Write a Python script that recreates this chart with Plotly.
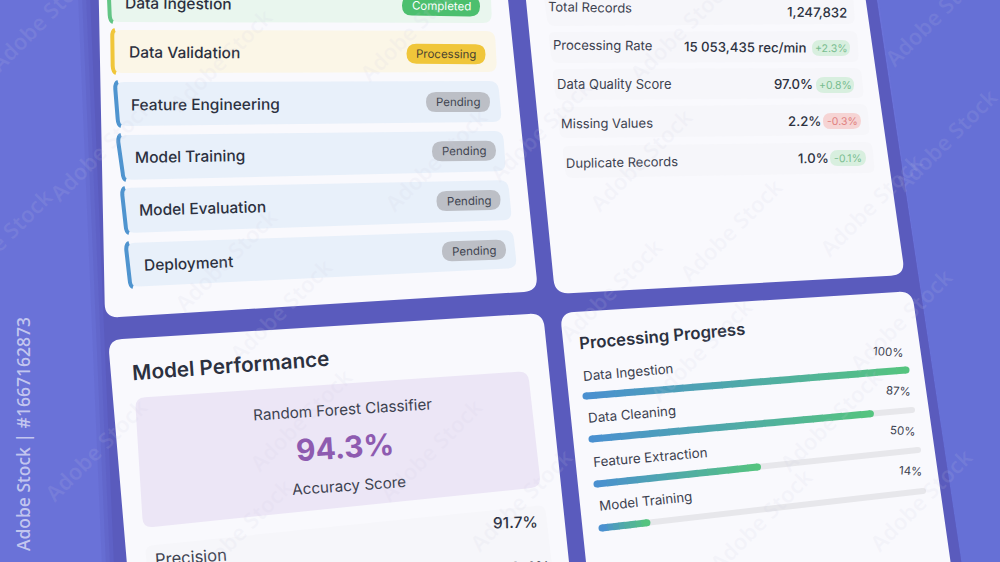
import plotly.graph_objects as go
import math

# ---------- data ----------
step_names = ["Data Ingestion", "Data Validation", "Feature Engineering", "Model Training", "Model Evaluation", "Deployment"]
step_status = ["Completed", "Processing", "Pending", "Pending", "Pending", "Pending"]
metric_names = ["Total Records", "Processing Rate", "Data Quality Score", "Missing Values", "Duplicate Records"]
metric_values = ["1,247,832", "15 053,435 rec/min", "97.0%", "2.2%", "1.0%"]
metric_deltas = ["", "+2.3%", "+0.8%", "-0.3%", "-0.1%"]
metric_delta_good = [True, True, True, False, True]
progress_names = ["Data Ingestion", "Data Cleaning", "Feature Extraction", "Model Training"]
progress_values = [100, 87, 50, 14]
model_title = "Model Performance"
model_name = "Random Forest Classifier"
model_score = "94.3%"
model_score_label = "Accuracy Score"
model_row_labels = ["Precision"]
model_row_values = ["91.7%", "93.4%"]
progress_title = "Processing Progress"
credit = "Adobe Stock | #1667162873"
watermark = "Adobe Stock"

# ---------- layout geometry (pixel space of the photographed perspective) ----------
FONT = "Inter"
INK = "#2c3140"
INK2 = "#3d4250"
step_quads = [
    [(108, -25), (490, -25), (492, 23), (110, 22)],
    [(112, 30), (495, 31), (497, 72), (113, 73)],
    [(115, 82), (498, 81), (502, 122), (118, 126)],
    [(118, 135), (503, 131), (506, 171), (123, 180)],
    [(122, 188), (508, 180), (512, 220), (126, 233)],
    [(126, 243), (513, 230), (517, 268), (130, 287)],
]
step_text_pos = [(178, 3, 0.6), (184, 52, 0.4), (205, 104, -0.3), (190, 156, -1), (202, 208, -1.6), (188, 263, -2.4)]
step_badge_pos = [(441, 6, 78, 20, 0.8), (446, 54, 79, 20, 0.6), (458, 102, 64, 20, -0.2), (464, 151, 64, 20, -0.8),
                  (468.5, 200.5, 64, 20, -1.2), (474, 250.5, 64, 20, -1.8)]
status_style = {"Completed": ("#4cbf6e", "#ffffff"), "Processing": ("#f0c63a", "#4a4230"), "Pending": ("#bcbfc6", "#3f4450")}
step_bg = {"Completed": "#e9f6ee", "Processing": "#fbf6e7", "Pending": "#e8f0fa"}
step_bar = {"Completed": "#62c585", "Processing": "#f0c63a", "Pending": "#4f94cf"}

row_quads = [
    [(543, -8), (853, -8), (855, 24), (548, 26)],
    [(548, 32), (857, 31), (859, 62), (552, 63)],
    [(552, 69), (861, 68), (864, 98), (556, 100)],
    [(557, 107), (867, 104), (870, 135), (560, 138)],
    [(562, 146), (872, 142), (875, 173), (566, 178)],
]
row_label_pos = [(590, 7, 1), (602, 45, 0.5), (614, 84, 0), (607, 123, -0.4), (622, 162, -1)]
row_value_pos = [(817, 12, 1), (745, 47, 0.6), (793, 84, 0), (804, 121, -0.4), (813, 158, -0.8)]
row_delta_pos = [None, (831, 48, 38, 16, 0.4), (835, 85, 38, 16, 0), (842, 121, 38, 16, -0.5), (848, 158, 36, 16, -0.8)]

tracks = [((586, 396), (906, 370)), ((592, 439), (912, 410)), ((597, 484), (918, 450)), ((602, 528), (923, 491))]
prog_label_pos = [(628, 372, -5), (632, 414, -5), (650, 457, -5), (645, 501, -6)]
prog_pct_pos = [(888, 352, 4), (898, 391, 4), (903, 431, 4), (910, 471, 4)]

wm_pos = [(40, 20), (100, 150), (220, 60), (410, 30), (540, 130), (680, 30), (935, 15), (945, 140), (870, 205), (95, 450),
          (225, 260), (280, 310), (435, 160), (730, 230), (610, 290), (430, 450), (700, 350), (830, 420), (760, 520),
          (300, 420), (640, 160), (0, 240), (240, 530), (920, 500), (520, 500), (900, 320)]


def rounded(pts, r):
    n = len(pts)
    out = []
    for i, c in enumerate(pts):
        a, b = pts[i - 1], pts[(i + 1) % n]
        da, db = math.dist(c, a), math.dist(c, b)
        ra, rb = min(r, da / 2) / da, min(r, db / 2) / db
        p0 = (c[0] + (a[0] - c[0]) * ra, c[1] + (a[1] - c[1]) * ra)
        p1 = (c[0] + (b[0] - c[0]) * rb, c[1] + (b[1] - c[1]) * rb)
        out.append(f"{'M' if i == 0 else 'L'}{p0[0]:.1f},{p0[1]:.1f} Q{c[0]:.1f},{c[1]:.1f} {p1[0]:.1f},{p1[1]:.1f}")
    return " ".join(out) + " Z"


def pill(cx, cy, w, h, ang):
    a = math.radians(ang)
    ux, uy = math.cos(a), math.sin(a)
    vx, vy = -uy, ux
    pts = [(cx + sx * w / 2 * ux + sy * h / 2 * vx, cy + sx * w / 2 * uy + sy * h / 2 * vy)
           for sx, sy in [(-1, -1), (1, -1), (1, 1), (-1, 1)]]
    return rounded(pts, h / 2)


shapes = []


def fill(path, color, op=1.0):
    shapes.append(dict(type="path", path=path, fillcolor=color, opacity=op, line=dict(width=0), layer="below",
                       xref="x", yref="y"))


annots = []


def text(x, y, s, size, color=INK, angle=0, weight=400, family=FONT, yanchor="middle"):
    annots.append(dict(x=x, y=y, xref="x", yref="y", text=s, showarrow=False, textangle=angle, xanchor="center",
                       yanchor=yanchor, font=dict(family=family, size=size, color=color, weight=weight)))


# lighter, bluer right side of the backdrop
fill("M878,-5 L1005,-5 L1005,567 L962,567 Z", "#6670d6")
# dark backdrop behind the cards, soft on its left side only
for grow, op in [(12, 0.22), (8, 0.3), (4, 0.4)]:
    fill(f"M{90 - grow},-5 L876,-5 L962,567 L{114 - grow},567 Z", "#5a5bbd", op)
fill("M90,-5 L876,-5 L962,567 L114,567 Z", "#5a5bbd")

# cards
card_a = [(98, -40), (504, -40), (538, 291), (105, 318)]
card_b = [(522, -40), (860, -40), (905, 275), (555, 294)]
card_c = [(108, 340), (543, 313), (573, 600), (130, 600)]
card_d = [(560, 313), (912, 291), (956, 600), (590, 600)]
for q in (card_a, card_b, card_c, card_d):
    fill(rounded(q, 14), "#f9f9fd")

# pipeline steps
for name, status, q, tp, bp in zip(step_names, step_status, step_quads, step_text_pos, step_badge_pos):
    fill(rounded(q, 9), step_bg[status])
    (x0, y0), (x1, y1) = q[0], q[3]
    shapes.append(dict(type="path", layer="below", xref="x", yref="y", line=dict(color=step_bar[status], width=4),
                       path=f"M{x0 + 3},{y0} Q{x0},{y0 + 1} {x0 + 0.3},{y0 + 7} L{x1 - 0.3},{y1 - 7} Q{x1},{y1 - 1} {x1 + 3},{y1}"))
    text(tp[0], tp[1], name, 15.5, INK, tp[2], 450)
    bg, fg = status_style[status]
    fill(pill(*bp), bg)
    text(bp[0], bp[1], status, 11.5, fg, bp[4], 400)

# quality metrics
for i, q in enumerate(row_quads):
    fill(rounded(q, 7), "#f6f6fa")
    lp, vp, dp = row_label_pos[i], row_value_pos[i], row_delta_pos[i]
    text(lp[0], lp[1], metric_names[i], 13, INK2, lp[2], 400)
    text(vp[0], vp[1], metric_values[i], 13.2, INK, vp[2], 500)
    if dp:
        good = metric_delta_good[i]
        fill(pill(*dp[:4], dp[4]), "#d8efdf" if good else "#f6d4d4")
        text(dp[0], dp[1], metric_deltas[i], 10.5, "#79bd90" if good else "#e08080", dp[4], 400)

# model performance
text(230, 365, model_title, 20.7, INK, -4.2, 600)
fill(rounded([(135, 398), (528, 371), (541, 487), (143, 528)], 10), "#ece6f6")
text(342, 409, model_name, 15.2, INK2, -3.6, 400)
text(345, 447, model_score, 30, "#8e5bb0", -3.8, 700)
text(349, 485, model_score_label, 15.2, INK2, -4, 400)
fill(rounded([(145, 546), (545, 505), (556, 600), (150, 600)], 8), "#f6f6fa")
text(515, 522, model_row_values[0], 15.5, INK, -1, 500)
text(191, 557, model_row_labels[0], 16.5, INK2, -4, 400)
text(525, 556, model_row_values[1], 15.5, INK, -1, 500, yanchor="top")

# processing progress
text(662, 336, progress_title, 16.7, INK, -5, 600)
fig = go.Figure()
C0, C1 = (74, 144, 208), (85, 196, 127)


def lerp(a, b, t):
    return a + (b - a) * t


for name, val, track, lp, pp in zip(progress_names, progress_values, tracks, prog_label_pos, prog_pct_pos):
    (x0, y0), (x1, y1) = track
    fig.add_trace(go.Scatter(x=[x0, x1], y=[y0, y1], mode="lines+markers", line=dict(color="#e7e7eb", width=6),
                             marker=dict(color="#e7e7eb", size=6), hoverinfo="skip", showlegend=False))
    f = val / 100
    n = max(8, int(val / 3))
    for k in range(n):
        a, b = f * k / n, f * (k + 1) / n + 0.002 * (k < n - 1)
        m = (k + 0.5) / n
        col = "rgb(%d,%d,%d)" % tuple(round(lerp(C0[j], C1[j], m)) for j in range(3))
        fig.add_trace(go.Scatter(x=[lerp(x0, x1, a), lerp(x0, x1, b)], y=[lerp(y0, y1, a), lerp(y0, y1, b)],
                                 mode="lines", line=dict(color=col, width=7), hoverinfo="skip", showlegend=False))
    fig.add_trace(go.Scatter(x=[x0, lerp(x0, x1, f)], y=[y0, lerp(y0, y1, f)], mode="markers",
                             marker=dict(color=["rgb(74,144,208)", "rgb(85,196,127)"], size=7), hoverinfo="skip",
                             showlegend=False))
    text(lp[0], lp[1], name, 13.3, INK2, lp[2], 400)
    text(pp[0], pp[1], f"{val}%", 11.5, INK2, pp[2], 400)

# stock marks present in the reference
for x, y in wm_pos:
    text(x, y, watermark, 22, "rgba(205,205,225,0.12)", -45, 600, "Noto Sans")
text(23, 434, credit, 17.5, "rgba(255,255,255,0.62)", -90, 500, "Noto Sans")

fig.update_layout(width=1000, height=562, margin=dict(l=0, r=0, t=0, b=0), paper_bgcolor="#6a72d8",
                  plot_bgcolor="#6a72d8", shapes=shapes, annotations=annots,
                  xaxis=dict(range=[0, 1000], visible=False, fixedrange=True),
                  yaxis=dict(range=[562, 0], visible=False, fixedrange=True), showlegend=False)
fig.write_html("out.html", config=dict(displayModeBar=False),
               post_script="document.body.style.margin='0';document.body.style.overflow='hidden';")
